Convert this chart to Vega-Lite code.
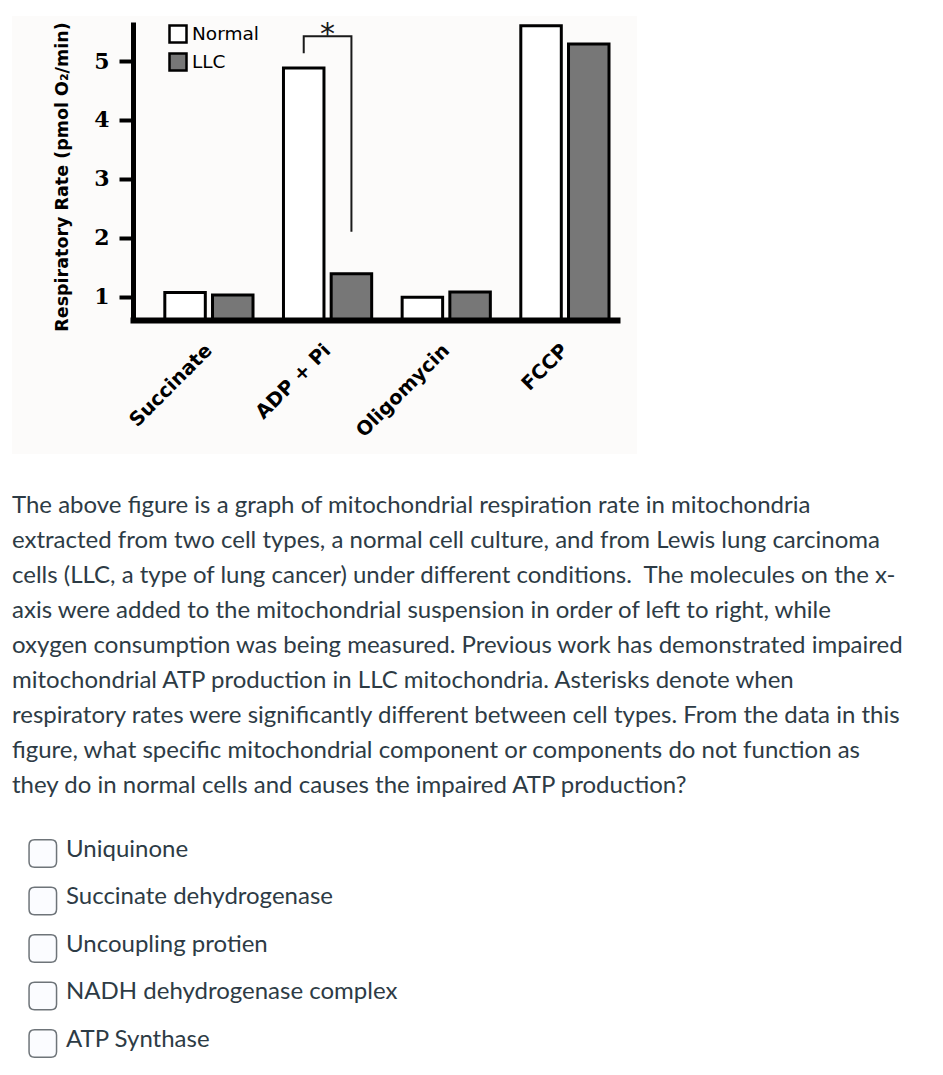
{
  "$schema": "https://vega.github.io/schema/vega-lite/v6.json",
  "background": "white",
  "padding": {"left": 12, "top": 16, "right": 0, "bottom": 0},
  "spacing": 26,
  "config": {"view": {"stroke": null}},
  "vconcat": [
    {
      "width": 625,
      "height": 438,
      "view": {"fill": "#fcfbfa", "stroke": null},
      "encoding": {
        "x": {
          "field": "condition",
          "type": "nominal",
          "sort": ["Succinate", "ADP + Pi", "Oligomycin", "FCCP"],
          "scale": {
            "domain": ["Succinate", "ADP + Pi", "Oligomycin", "FCCP"],
            "range": [118, 608],
            "paddingInner": 0.2567,
            "paddingOuter": 0.193,
            "align": 0.76
          },
          "axis": {
            "title": null,
            "orient": "bottom",
            "offset": -134,
            "domainWidth": 6,
            "domainColor": "black",
            "ticks": false,
            "tickSize": 0,
            "labelAngle": -45,
            "labelAlign": "right",
            "labelBaseline": "middle",
            "labelFont": "DejaVu Sans",
            "labelFontWeight": "bold",
            "labelFontSize": 19.5,
            "labelColor": "black",
            "labelPadding": 27,
            "labelOverlap": false,
            "zindex": 1
          }
        },
        "y": {
          "field": "rate",
          "type": "quantitative",
          "scale": {"domain": [0.604, 5.662], "range": [304, 6], "zero": false, "nice": false},
          "axis": {
            "title": "Respiratory Rate (pmol O₂/min)",
            "orient": "left",
            "offset": -121,
            "values": [1, 2, 3, 4, 5],
            "grid": false,
            "domainWidth": 5,
            "domainColor": "black",
            "tickWidth": 4,
            "tickSize": 14,
            "tickColor": "black",
            "labelFont": "DejaVu Serif",
            "labelFontWeight": "bold",
            "labelFontSize": 22,
            "labelColor": "black",
            "labelPadding": 10,
            "titleFont": "DejaVu Sans",
            "titleFontWeight": "bold",
            "titleFontSize": 17.5,
            "titleColor": "black",
            "titleX": -71,
            "titleY": 160.5,
            "titleAngle": -90,
            "titleAlign": "center",
            "titleBaseline": "middle",
            "zindex": 1
          }
        }
      },
      "layer": [
        {
          "data": {
            "values": [
              {"condition": "Succinate", "cell": "Normal", "rate": 1.07},
              {"condition": "Succinate", "cell": "LLC", "rate": 1.03},
              {"condition": "ADP + Pi", "cell": "Normal", "rate": 4.88},
              {"condition": "ADP + Pi", "cell": "LLC", "rate": 1.39},
              {"condition": "Oligomycin", "cell": "Normal", "rate": 0.99},
              {"condition": "Oligomycin", "cell": "LLC", "rate": 1.08},
              {"condition": "FCCP", "cell": "Normal", "rate": 5.6},
              {"condition": "FCCP", "cell": "LLC", "rate": 5.29}
            ]
          },
          "mark": {"type": "bar", "stroke": "black", "strokeWidth": 3},
          "encoding": {
            "xOffset": {
              "field": "cell",
              "type": "nominal",
              "sort": ["Normal", "LLC"],
              "scale": {"domain": ["Normal", "LLC"], "paddingInner": 0.151, "paddingOuter": 0}
            },
            "y2": {"datum": 0.604},
            "fill": {
              "field": "cell",
              "type": "nominal",
              "sort": ["Normal", "LLC"],
              "scale": {"domain": ["Normal", "LLC"], "range": ["#ffffff", "#777777"]},
              "legend": {
                "title": null,
                "orient": "none",
                "legendX": 156,
                "legendY": 8,
                "direction": "vertical",
                "padding": 0,
                "symbolType": "square",
                "symbolSize": 289,
                "symbolStrokeColor": "black",
                "symbolStrokeWidth": 2.5,
                "symbolOpacity": 1,
                "labelFont": "DejaVu Sans",
                "labelFontSize": 18.5,
                "labelColor": "black",
                "labelOffset": 4,
                "rowPadding": 0
              }
            }
          }
        },
        {
          "data": {
            "values": [
              {"condition": "ADP + Pi", "cell": "Normal", "rate": 5.13, "step": 1},
              {"condition": "ADP + Pi", "cell": "Normal", "rate": 5.42, "step": 2},
              {"condition": "ADP + Pi", "cell": "LLC", "rate": 5.42, "step": 3},
              {"condition": "ADP + Pi", "cell": "LLC", "rate": 2.1, "step": 4}
            ]
          },
          "mark": {"type": "line", "stroke": "#1a1a1a", "strokeWidth": 2, "strokeJoin": "miter", "strokeCap": "butt"},
          "encoding": {
            "xOffset": {
              "field": "cell",
              "type": "nominal",
              "sort": ["Normal", "LLC"],
              "scale": {"domain": ["Normal", "LLC"], "paddingInner": 0.151, "paddingOuter": 0}
            },
            "order": {"field": "step", "type": "quantitative"}
          }
        },
        {
          "data": {"values": [{"condition": "ADP + Pi", "rate": 5.29, "note": "*"}]},
          "mark": {"type": "text", "font": "DejaVu Sans", "fontSize": 30, "align": "center", "baseline": "alphabetic", "color": "#1a1a1a"},
          "encoding": {"text": {"field": "note"}}
        }
      ]
    },
    {
      "width": 920,
      "height": 323.5,
      "data": {
        "values": [
          {"line": 1, "part": "text", "text": "The above figure is a graph of mitochondrial respiration rate in mitochondria"},
          {"line": 2, "part": "text", "text": "extracted from two cell types, a normal cell culture, and from Lewis lung carcinoma"},
          {"line": 3, "part": "text", "text": "cells (LLC, a type of lung cancer) under different conditions.\u00a0 The molecules on the x-"},
          {"line": 4, "part": "text", "text": "axis were added to the mitochondrial suspension in order of left to right, while"},
          {"line": 5, "part": "text", "text": "oxygen consumption was being measured. Previous work has demonstrated impaired"},
          {"line": 6, "part": "text", "text": "mitochondrial ATP production in LLC mitochondria. Asterisks denote when"},
          {"line": 7, "part": "text", "text": "respiratory rates were significantly different between cell types. From the data in this"},
          {"line": 8, "part": "text", "text": "figure, what specific mitochondrial component or components do not function as"},
          {"line": 9, "part": "text", "text": "they do in normal cells and causes the impaired ATP production?"}
        ]
      },
      "mark": {"type": "text", "align": "left", "baseline": "middle", "font": "Lato", "fontSize": 24, "color": "#2d3b45"},
      "encoding": {
        "x": {"field": "part", "type": "nominal", "scale": {"type": "point", "domain": ["text"], "range": [0, 0]}, "axis": null},
        "y": {"field": "line", "type": "ordinal", "scale": {"type": "point", "range": [26, 306], "padding": 0}, "axis": null},
        "text": {"field": "text"}
      }
    },
    {
      "width": 920,
      "height": 237.5,
      "data": {
        "values": [
          {"option": 1, "label": "Uniquinone"},
          {"option": 2, "label": "Succinate dehydrogenase"},
          {"option": 3, "label": "Uncoupling protien"},
          {"option": 4, "label": "NADH dehydrogenase complex"},
          {"option": 5, "label": "ATP Synthase"}
        ]
      },
      "encoding": {
        "y": {"field": "option", "type": "ordinal", "scale": {"type": "point", "range": [23.5, 213.5], "padding": 0}, "axis": null}
      },
      "layer": [
        {
          "mark": {
            "type": "point",
            "shape": "M -1 -0.6 Q -1 -1 -0.6 -1 L 0.6 -1 Q 1 -1 1 -0.6 L 1 0.6 Q 1 1 0.6 1 L -0.6 1 Q -1 1 -1 0.6 Z",
            "filled": true,
            "fill": "#fbfcff",
            "stroke": "#6e7479",
            "strokeWidth": 1.5,
            "size": 756,
            "opacity": 1,
            "fillOpacity": 1
          },
          "encoding": {
            "x": {"datum": "box", "type": "nominal", "scale": {"type": "point", "domain": ["box", "label"], "range": [30.8, 54], "padding": 0}, "axis": null}
          }
        },
        {
          "mark": {"type": "text", "align": "left", "baseline": "middle", "font": "Lato", "fontSize": 24, "color": "#2d3b45", "dy": -4},
          "encoding": {
            "x": {"datum": "label", "type": "nominal"},
            "text": {"field": "label"}
          }
        }
      ]
    }
  ]
}
